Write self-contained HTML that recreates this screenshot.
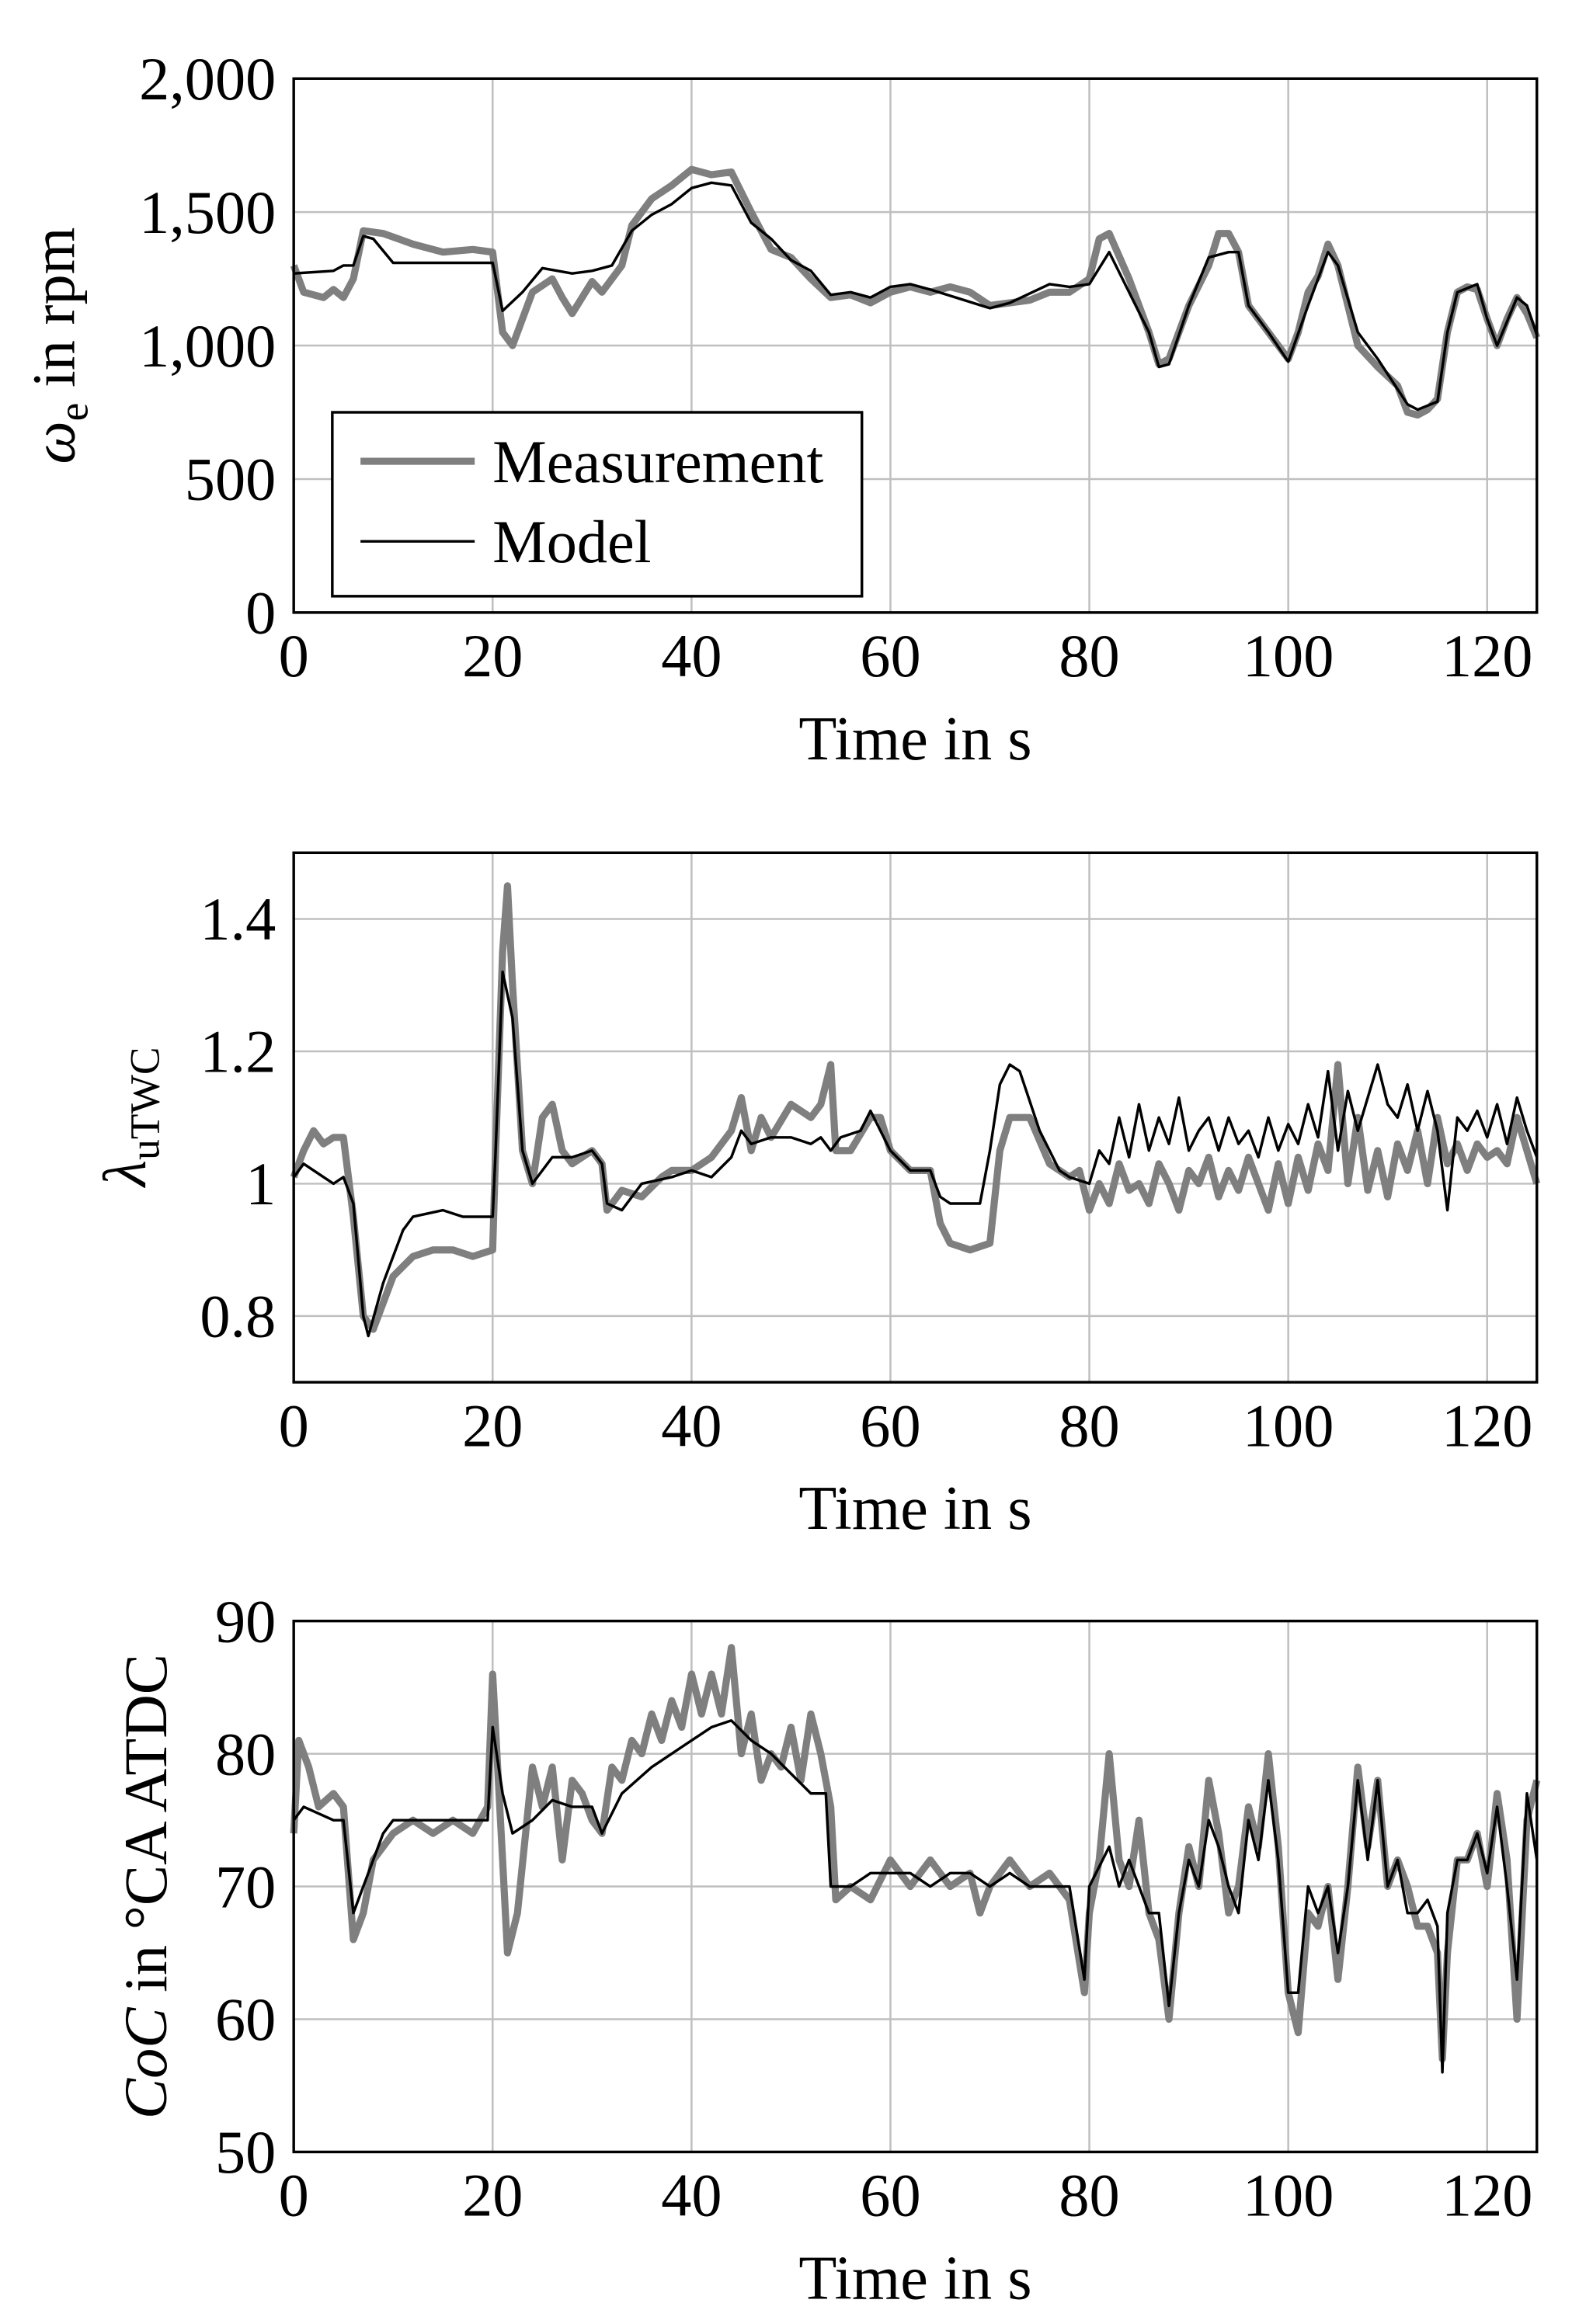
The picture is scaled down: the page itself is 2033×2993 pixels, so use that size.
<!DOCTYPE html>
<html><head><meta charset="utf-8"><style>
html,body{margin:0;padding:0;background:#fff;}
svg{display:block;}
text{font-family:"Liberation Serif",serif;fill:#000;}
</style></head><body>
<svg id="s" xmlns="http://www.w3.org/2000/svg" width="2033" height="2993" viewBox="0 0 1064.4 1567">
</svg>
<script>
const S=document.getElementById('s');const NS='http://www.w3.org/2000/svg';
function el(t,a,txt){const e=document.createElementNS(NS,t);for(const k in a)e.setAttribute(k,a[k]);if(txt!==undefined)e.textContent=txt;S.appendChild(e);return e;}
const X0=198,X1=1036;const FS=41;
function X(t){return X0+t*(X1-X0)/125;}
function panel(yt,yb,vmin,vmax,yticks,ylabels,meas,model){
  const Y=v=>yb-(v-vmin)*(yb-yt)/(vmax-vmin);
  [0,20,40,60,80,100,120].forEach(t=>{el('line',{x1:X(t),x2:X(t),y1:yt,y2:yb,stroke:'#bfbfbf','stroke-width':1.3});
    el('text',{x:X(t),y:yb+43,'font-size':FS,'text-anchor':'middle'},String(t));});
  yticks.forEach((v,i)=>{el('line',{x1:X0,x2:X1,y1:Y(v),y2:Y(v),stroke:'#bfbfbf','stroke-width':1.3});
    el('text',{x:X0-12,y:Y(v)+14,'font-size':FS,'text-anchor':'end'},ylabels[i]);});
  const pts=a=>{let s=[];for(let i=0;i<a.length;i+=2)s.push(X(a[i]).toFixed(1)+','+Y(a[i+1]).toFixed(1));return s.join(' ');};
  el('polyline',{points:pts(meas),fill:'none',stroke:'#7f7f7f','stroke-width':4.8,'stroke-linejoin':'round'});
  el('polyline',{points:pts(model),fill:'none',stroke:'#000','stroke-width':1.8,'stroke-linejoin':'round'});
  el('rect',{x:X0,y:yt,width:X1-X0,height:yb-yt,fill:'none',stroke:'#000','stroke-width':1.8});
  el('text',{x:617,y:yb+99,'font-size':42,'text-anchor':'middle'},'Time in s');
}
panel(53,413,0,2000,[0,500,1000,1500,2000],['0','500','1,000','1,500','2,000'],
[0,1300,1,1200,3,1180,4,1210,5,1180,6,1250,7,1430,9,1420,12,1380,15,1350,18,1360,20,1350,21,1050,22,1000,24,1200,26,1250,27,1180,28,1120,30,1240,31,1200,33,1300,34,1450,36,1550,38,1600,40,1660,42,1640,44,1650,46,1500,48,1360,50,1330,52,1250,54,1180,56,1190,58,1160,60,1200,62,1220,64,1200,66,1220,68,1200,70,1150,72,1160,74,1170,76,1200,78,1200,80,1250,81,1400,82,1420,84,1250,86,1050,87,930,88,950,90,1150,92,1300,93,1420,94,1420,95,1350,96,1150,98,1050,100,950,101,1050,102,1200,103,1260,104,1380,105,1300,106,1150,107,1000,109,920,111,850,112,750,113,740,114,760,115,800,116,1050,117,1200,118,1220,119,1210,120,1100,121,1000,122,1100,123,1180,124,1120,125,1030],
[0,1270,4,1280,5,1300,6,1300,7,1410,8,1400,10,1310,20,1310,21,1130,23,1200,25,1290,28,1270,30,1280,32,1300,34,1430,36,1490,38,1530,40,1590,42,1610,44,1600,46,1460,48,1400,50,1320,52,1280,54,1190,56,1200,58,1180,60,1220,62,1230,64,1210,70,1140,72,1160,76,1230,78,1220,80,1230,82,1350,84,1200,86,1050,87,920,88,930,90,1150,92,1330,94,1350,95,1350,96,1150,98,1050,100,940,102,1150,104,1350,105,1300,107,1050,109,950,112,780,113,760,115,790,116,1050,117,1200,119,1230,120,1100,121,1000,123,1180,124,1150,125,1040]);
panel(575,932,0.7,1.5,[0.8,1,1.2,1.4],['0.8','1','1.2','1.4'],
[0,1.01,1,1.05,2,1.08,3,1.06,4,1.07,5,1.07,6,0.95,7,0.80,8,0.78,9,0.82,10,0.86,12,0.89,14,0.90,16,0.90,18,0.89,20,0.90,20.3,1.05,21,1.35,21.5,1.45,22,1.30,23,1.05,24,1.00,25,1.10,26,1.12,27,1.05,28,1.03,30,1.05,31,1.03,31.5,0.96,33,0.99,35,0.98,37,1.01,38,1.02,40,1.02,42,1.04,44,1.08,45,1.13,46,1.05,47,1.10,48,1.07,50,1.12,52,1.10,53,1.12,54,1.18,54.5,1.05,56,1.05,58,1.10,59,1.10,60,1.05,62,1.02,64,1.02,65,0.94,66,0.91,68,0.90,70,0.91,71,1.05,72,1.10,74,1.10,76,1.03,78,1.01,79,1.02,80,0.96,81,1.00,82,0.97,83,1.03,84,0.99,85,1.00,86,0.97,87,1.03,88,1.00,89,0.96,90,1.02,91,1.00,92,1.04,93,0.98,94,1.02,95,0.99,96,1.04,97,1.00,98,0.96,99,1.03,100,0.97,101,1.04,102,0.99,103,1.06,104,1.02,105,1.18,106,1.00,107,1.10,108,0.99,109,1.05,110,0.98,111,1.06,112,1.02,113,1.08,114,1.00,115,1.10,116,1.03,117,1.06,118,1.02,119,1.06,120,1.04,121,1.05,122,1.03,123,1.10,124,1.05,125,1.00],
[0,1.01,1,1.03,3,1.01,4,1.00,5,1.01,6,0.97,7,0.80,7.5,0.77,9,0.85,11,0.93,12,0.95,15,0.96,17,0.95,20,0.95,20.3,1.05,21,1.32,22,1.25,23,1.05,24,1.00,25,1.02,26,1.04,28,1.04,30,1.05,31,1.03,31.5,0.97,33,0.96,35,1.00,38,1.01,40,1.02,42,1.01,44,1.04,45,1.08,46,1.06,48,1.07,50,1.07,52,1.06,53,1.07,54,1.05,55,1.07,57,1.08,58,1.11,60,1.05,62,1.02,64,1.02,65,0.98,66,0.97,69,0.97,70,1.05,71,1.15,72,1.18,73,1.17,75,1.08,77,1.02,78,1.01,80,1.00,81,1.05,82,1.03,83,1.10,84,1.04,85,1.12,86,1.05,87,1.10,88,1.06,89,1.13,90,1.05,91,1.08,92,1.10,93,1.05,94,1.10,95,1.06,96,1.08,97,1.04,98,1.10,99,1.05,100,1.09,101,1.06,102,1.12,103,1.07,104,1.17,105,1.05,106,1.14,107,1.08,108,1.13,109,1.18,110,1.12,111,1.10,112,1.15,113,1.08,114,1.14,115,1.08,116,0.96,117,1.10,118,1.08,119,1.11,120,1.07,121,1.12,122,1.06,123,1.13,124,1.08,125,1.04]);
panel(1093,1451,50,90,[50,60,70,80,90],['50','60','70','80','90'],
[0,74,0.5,81,1.5,79,2.5,76,4,77,5,76,6,66,7,68,8,72,10,74,12,75,14,74,16,75,18,74,19.5,76,20,86,21,72,21.5,65,22.5,68,24,79,25,76,26,79,27,72,28,78,29,77,30,75,31,74,32,79,33,78,34,81,35,80,36,83,37,81,38,84,39,82,40,86,41,83,42,86,43,83,44,88,45,80,46,83,47,78,48,80,49,79,50,82,51,78,52,83,53,80,54,76,54.5,69,56,70,58,69,60,72,62,70,64,72,66,70,68,71,69,68,70,70,72,72,74,70,76,71,78,69,79.5,62,80,68,81,72,82,80,83,72,84,70,85,75,86,68,87,66,88,60,89,68,90,73,91,70,92,78,93,74,94,68,95,70,96,76,97,73,98,80,99,73,100,62,101,59,102,68,103,67,104,70,105,63,106,70,107,79,108,73,109,78,110,70,111,72,112,70,113,67,114,67,115,65,115.5,57,116,65,117,72,118,72,119,74,120,70,121,77,122,72,123,60,124,75,125,78],
[0,75,1,76,4,75,5,75,6,68,7,70,9,74,10,75,14,75,19.5,75,20,82,21,77,22,74,24,75,26,76.5,28,76,30,76,31,74,33,77,36,79,40,81,42,82,44,82.5,46,81,48,80,52,77,53.5,77,54,70,56,70,58,71,60,71,62,71,64,70,66,71,68,71,70,70,72,71,74,70,76,70,78,70,79.5,63,80,70,82,73,83,70,84,72,85,70,86,68,87,68,88,61,89,68,90,72,91,70,92,75,93,73,94,70,95,68,96,75,97,72,98,78,99,72,100,62,101,62,102,70,103,68,104,70,105,65,106,70,107,78,108,72,109,78,110,70,111,72,112,68,113,68,114,69,115,67,115.5,56,116,68,117,72,118,72,119,74,120,71,121,76,122,70,123,63,124,77,125,72]);
el('rect',{x:224,y:278,width:357,height:124,fill:'#fff',stroke:'#000','stroke-width':1.8});
el('line',{x1:243,x2:320,y1:311,y2:311,stroke:'#7f7f7f','stroke-width':4.8});
el('line',{x1:243,x2:320,y1:365,y2:365,stroke:'#000','stroke-width':1.8});
el('text',{x:332,y:325,'font-size':41},'Measurement');
el('text',{x:332,y:379,'font-size':41},'Model');
let t=el('text',{transform:'translate(50,233) rotate(-90)','font-size':41,'text-anchor':'middle'});
t.innerHTML='<tspan font-style="italic">ω</tspan><tspan font-size="28" dy="9">e</tspan><tspan dy="-9"> in rpm</tspan>';
t=el('text',{transform:'translate(98,753) rotate(-90)','font-size':41,'text-anchor':'middle'});
t.innerHTML='<tspan font-style="italic">λ</tspan><tspan font-size="28" dy="9">uTWC</tspan>';
t=el('text',{transform:'translate(112,1272) rotate(-90)','font-size':41,'text-anchor':'middle'});
t.innerHTML='<tspan font-style="italic">CoC</tspan> in °CA ATDC';
</script>
</body></html>
